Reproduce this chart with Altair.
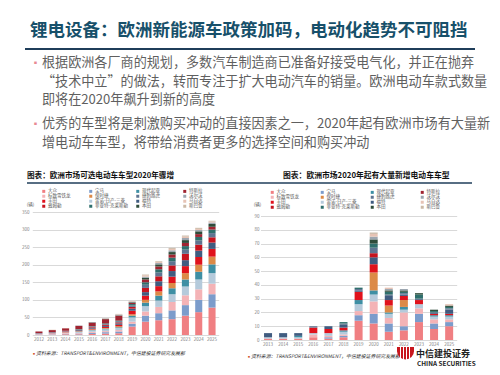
import altair as alt
import pandas as pd

FONT = "Noto Sans CJK SC"

# ---- text content ----
title_text = "锂电设备：欧洲新能源车政策加码，电动化趋势不可阻挡"
bullet1_lines = [
    "根据欧洲各厂商的规划，多数汽车制造商已准备好接受电气化，并正在抛弃",
    "“技术中立”的做法，转而专注于扩大电动汽车的销量。欧洲电动车款式数量",
    "即将在2020年飙升到新的高度",
]
bullet2_lines = [
    "优秀的车型将是刺激购买冲动的直接因素之一，2020年起有欧洲市场有大量新",
    "增电动车车型，将带给消费者更多的选择空间和购买冲动",
]
left_title = "图表：欧洲市场可选电动车车型2020年骤增"
right_title = "图表：欧洲市场2020年起有大量新增电动车车型"
source_text = "资料来源：TRANSPORT&ENVIRONMENT，中信建投证券研究发展部"

# ---- chart categories ----
years_left = [str(y) for y in range(2012, 2026)]
years_right = [str(y) for y in range(2013, 2026)]

# legend order (4 columns, row by row)
legend_brands = [
    "大众", "标致雪铁龙", "丰田", "戴姆勒",
    "宝马", "保时捷", "雷诺-日产-三菱", "菲亚特-克莱斯勒",
    "现代起亚", "捷豹路虎", "福特", "本田",
    "特斯拉", "沃尔沃", "马自达", "斯巴鲁",
]

# stacking order, bottom to top
stack_brands = [
    "大众", "宝马", "标致雪铁龙", "雷诺-日产-三菱", "现代起亚", "保时捷",
    "丰田", "福特", "戴姆勒", "捷豹路虎", "菲亚特-克莱斯勒", "特斯拉",
    "本田", "沃尔沃", "马自达", "斯巴鲁",
]

brand_colors = {
    "大众": "#f07f82",
    "宝马": "#7c9ccb",
    "标致雪铁龙": "#f4b3b6",
    "雷诺-日产-三菱": "#b5cadb",
    "现代起亚": "#3e8fa4",
    "保时捷": "#dc8a47",
    "丰田": "#e0121c",
    "福特": "#405c80",
    "戴姆勒": "#c7141e",
    "捷豹路虎": "#5f7591",
    "菲亚特-克莱斯勒": "#2f6f6c",
    "特斯拉": "#a02431",
    "本田": "#2f4c3a",
    "沃尔沃": "#9ca6b0",
    "马自达": "#e6c3b5",
    "斯巴鲁": "#cbb9a6",
}

# available EV models per brand, 2012-2025
left_counts = {
    "大众":           [1, 1, 2, 2, 3, 4, 5, 24, 38, 42, 45, 55, 65, 78],
    "宝马":           [1, 1, 1, 2, 3, 4, 5, 8, 17, 20, 25, 30, 35, 38],
    "标致雪铁龙":     [1, 1, 2, 2, 3, 3, 4, 6, 12, 18, 24, 28, 30, 30],
    "雷诺-日产-三菱": [1, 2, 2, 3, 4, 5, 6, 12, 15, 18, 22, 25, 28, 30],
    "现代起亚":       [0, 0, 0, 1, 1, 2, 2, 5, 10, 14, 17, 20, 22, 25],
    "保时捷":         [0, 0, 1, 1, 2, 2, 3, 4, 8, 12, 15, 18, 20, 22],
    "丰田":           [0, 1, 1, 1, 2, 3, 4, 10, 12, 15, 18, 20, 22, 22],
    "福特":           [1, 1, 1, 2, 2, 3, 4, 6, 10, 14, 16, 17, 18, 18],
    "戴姆勒":         [0, 0, 1, 1, 2, 3, 3, 5, 12, 14, 16, 18, 17, 15],
    "捷豹路虎":       [0, 1, 1, 1, 2, 2, 3, 4, 9, 11, 12, 12, 12, 12],
    "菲亚特-克莱斯勒": [0, 0, 0, 1, 1, 2, 2, 4, 7, 9, 10, 10, 10, 10],
    "特斯拉":         [5, 6, 7, 9, 10, 12, 14, 3, 8, 8, 9, 9, 8, 8],
    "本田":           [0, 0, 0, 0, 1, 1, 1, 2, 5, 6, 7, 8, 8, 8],
    "沃尔沃":         [0, 0, 0, 1, 1, 1, 2, 2, 3, 4, 5, 6, 4, 4],
    "马自达":         [0, 1, 1, 0, 0, 1, 1, 2, 4, 3, 4, 4, 3, 3],
    "斯巴鲁":         [0, 0, 0, 0, 0, 0, 1, 0, 2, 2, 3, 3, 3, 2],
}

# newly launched EV models per brand, 2013-2025
right_counts = {
    "大众":           [1, 1, 1, 2, 1, 2, 14, 12, 6, 7, 13, 8, 10],
    "宝马":           [0, 0, 0, 0, 1, 1, 4, 7, 6, 3, 6, 4, 3],
    "标致雪铁龙":     [0, 0, 0, 2, 1, 1, 3, 9, 4, 10, 4, 3, 2],
    "雷诺-日产-三菱": [1, 1, 1, 1, 2, 2, 5, 5, 3, 2, 3, 2, 2],
    "现代起亚":       [0, 0, 1, 0, 0, 1, 3, 3, 1, 2, 0, 1, 1],
    "保时捷":         [0, 0, 0, 0, 0, 0, 0, 13, 5, 5, 0, 0, 0],
    "丰田":           [0, 0, 0, 4, 3, 2, 6, 6, 4, 3, 3, 1, 1],
    "福特":           [3, 3, 2, 0, 2, 2, 1, 5, 3, 1, 0, 1, 3],
    "戴姆勒":         [0, 0, 0, 0, 0, 0, 0, 3, 0, 0, 0, 0, 0],
    "捷豹路虎":       [0, 0, 0, 1, 0, 1, 1, 4, 1, 1, 1, 0, 1],
    "菲亚特-克莱斯勒": [0, 0, 0, 0, 0, 1, 1, 3, 2, 1, 3, 1, 1],
    "特斯拉":         [0, 0, 0, 0, 0, 0, 0, 0, 0, 0, 0, 0, 0],
    "本田":           [0, 0, 0, 0, 0, 0, 0, 3, 1, 1, 1, 1, 1],
    "沃尔沃":         [0, 0, 0, 0, 0, 0, 0, 2, 1, 1, 0, 0, 0],
    "马自达":         [0, 0, 0, 0, 0, 0, 0, 2, 1, 0, 0, 0, 1],
    "斯巴鲁":         [0, 0, 0, 0, 0, 0, 0, 1, 0, 0, 0, 0, 0],
}

left_ticks = [0, 50, 100, 150, 200, 250, 300, 350]
right_ticks = [0, 10, 20, 30, 40, 50, 60, 70, 80, 90]


def long_table(counts, years):
    rows = []
    for brand, vals in counts.items():
        for year, v in zip(years, vals):
            rows.append({"year": year, "brand": brand, "count": v,
                         "rank": stack_brands.index(brand)})
    return pd.DataFrame(rows)


def text_mark(txt, x, y, **style):
    return alt.Chart(pd.DataFrame({"t": [txt]})).mark_text(
        align=style.pop("align", "left"), baseline="middle", font=FONT, **style
    ).encode(x=alt.value(x), y=alt.value(y), text="t:N")


def hline(x1, x2, y, color, width):
    return alt.Chart(pd.DataFrame({"k": [0]})).mark_rule(
        color=color, strokeWidth=width
    ).encode(x=alt.value(x1), x2=alt.value(x2), y=alt.value(y))


def stacked_bars(df, years, x_range, y_domain, y_range, ticks,
                 x_offset, y_offset, title_x, legend_x, legend_y, col_pad):
    return alt.Chart(df).mark_bar().encode(
        x=alt.X(
            "year:N", sort=years,
            scale=alt.Scale(domain=years, range=x_range,
                            paddingInner=0.47, paddingOuter=0.235),
            axis=alt.Axis(orient="bottom", offset=x_offset, title=None,
                          labelAngle=0, labelFontSize=4.5, labelColor="#7f7f7f",
                          labelFont=FONT, labelPadding=1.5, ticks=False,
                          domain=False, grid=False),
        ),
        y=alt.Y(
            "count:Q", stack="zero",
            scale=alt.Scale(domain=y_domain, range=y_range, nice=False),
            axis=alt.Axis(orient="left", offset=y_offset, values=ticks,
                          labelFontSize=4.5, labelColor="#7f7f7f", labelFont=FONT,
                          labelPadding=2, ticks=False, domain=False,
                          grid=True, gridColor="#c8c8c8", gridWidth=0.7,
                          title="(辆)", titleAngle=0, titleFontSize=4.5,
                          titleFontWeight="normal", titleColor="#555555",
                          titleFont=FONT, titleX=title_x, titleY=204,
                          titleAlign="center", titleBaseline="middle"),
        ),
        color=alt.Color(
            "brand:N",
            scale=alt.Scale(domain=legend_brands,
                            range=[brand_colors[b] for b in legend_brands]),
            legend=alt.Legend(orient="none", legendX=legend_x, legendY=legend_y,
                              columns=4, title=None, symbolType="square",
                              symbolSize=9, symbolStrokeWidth=0,
                              labelFontSize=4.5, labelColor="#555555",
                              labelFont=FONT, labelOffset=2, rowPadding=0,
                              columnPadding=col_pad, gridAlign="all", padding=0),
        ),
        order=alt.Order("rank:Q", sort="ascending"),
    )


left_df = long_table(left_counts, years_left)
right_df = long_table(right_counts, years_right)

left_chart = stacked_bars(left_df, years_left, [32.3, 218.7], [0, 350], [335, 212],
                          left_ticks, -40, -31, -1, 41.5, 189, 7)
right_chart = stacked_bars(right_df, years_right, [260.5, 456.7], [0, 90], [340, 216],
                           right_ticks, -35, -261, -4, 270, 190, 10)

# ---- slide header ----
header = [
    text_mark(title_text, 30, 31, fontSize=17.5, fontWeight="bold", color="#17506a"),
    hline(25, 475, 49, "#1f3e5a", 2.2),
    text_mark("▪", 31, 63, fontSize=9, color="#e88a93"),
    text_mark("\n".join(bullet1_lines), 42, 63, fontSize=13.1, color="#5f5f5f",
              lineBreak="\n", lineHeight=18.5),
    text_mark("▪", 31, 124, fontSize=9, color="#e88a93"),
    text_mark("\n".join(bullet2_lines), 42, 124, fontSize=13.1, color="#5f5f5f",
              lineBreak="\n", lineHeight=18.5),
    text_mark(left_title, 27, 176, fontSize=7.6, fontWeight="bold", color="#111111"),
    text_mark(right_title, 283, 176, fontSize=7.8, fontWeight="bold", color="#111111"),
    hline(27, 472, 183, "#1f3e5a", 1.5),
]

# ---- footer ----
footer = [
    text_mark("▪", 31, 354, fontSize=6, color="#d0552a"),
    text_mark(source_text, 36, 354, fontSize=4.9, fontStyle="italic", color="#333333"),
    text_mark("▪", 246, 357, fontSize=6, color="#d0552a"),
    text_mark(source_text, 251, 357, fontSize=4.9, fontStyle="italic", color="#333333"),
    # company mark
    alt.Chart(pd.DataFrame({"k": [0]})).mark_arc(color="#c8161d").encode(
        x=alt.value(405.5), y=alt.value(351), theta=alt.value(1.5708),
        theta2=alt.value(4.7124), radius=alt.value(8.5)),
    alt.Chart(pd.DataFrame({"k": [0]})).mark_rect(color="#c8161d").encode(
        x=alt.value(397), x2=alt.value(414), y=alt.value(347), y2=alt.value(351.5)),
    text_mark("中信建投证券", 416, 353.5, fontSize=9, fontWeight="bold",
              color="#222222"),
    text_mark("CHINA SECURITIES", 417, 364, fontSize=6.4, fontWeight="bold",
              color="#222222"),
]

stripes = [
    alt.Chart(pd.DataFrame({"k": [0]})).mark_rule(color="white", strokeWidth=1).encode(
        x=alt.value(sx), y=alt.value(347), y2=alt.value(360))
    for sx in [400.5, 403.5, 406.5, 409.5]
]

chart = alt.layer(
    *header, left_chart, right_chart, *footer, *stripes
).resolve_scale(
    x="independent", y="independent", color="independent"
).properties(
    width=500, height=375, autosize=alt.AutoSizeParams(type="none"),
    padding=0, background="white",
).configure_view(stroke=None)

chart.save("out.html", embed_options={"renderer": "svg", "actions": False})
